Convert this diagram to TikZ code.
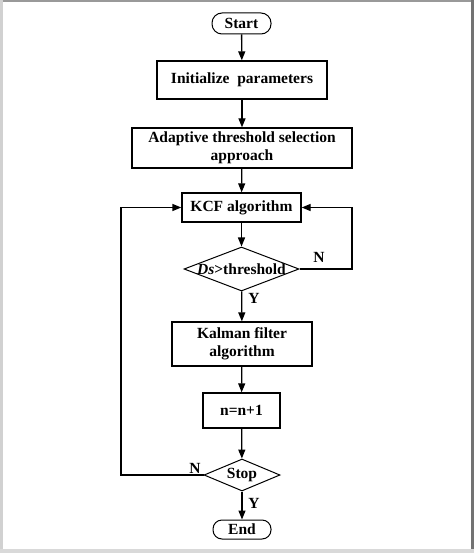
\documentclass[tikz,border=0pt]{standalone}
\usepackage{fontspec}
\setmainfont{Liberation Serif}
\usetikzlibrary{shapes.geometric,arrows.meta}
\begin{document}
\begin{tikzpicture}[x=1pt,y=-1pt,
  every node/.style={font=\bfseries\fontsize{15.5}{18}\selectfont, inner sep=0pt},
  box/.style={draw, line width=1.3pt, rectangle, align=center},
  term/.style={draw, line width=1pt, rounded corners=10pt},
  dec/.style={draw, line width=1pt, diamond, aspect=2.6},
  arr/.style={line width=1.3pt, -{Triangle[length=9pt,width=7pt]}},
  lbl/.style={font=\bfseries\fontsize{15.5}{18}\selectfont}]
\useasboundingbox (0,0) rectangle (474,553);
\fill[white] (0,0) rectangle (474,553);
% frame
\fill[black!40] (0,0) rectangle (474,2.5);
\fill[black!18] (0,0) rectangle (2.5,553);
\fill[black!55] (471,0) rectangle (474,553);
\fill[black!15] (0,549) rectangle (474,553);

\node[term, minimum width=59pt, minimum height=21pt] (start) at (241.5,23.5) {Start};
\node[box, minimum width=170pt, minimum height=38pt] (init) at (242,80) {Initialize\ \ parameters};
\node[box, minimum width=220pt, minimum height=40pt] (adapt) at (242,148) {Adaptive threshold selection\\approach};
\node[box, minimum width=119pt, minimum height=29pt] (kcf) at (241.5,207.5) {KCF algorithm};
\node[dec, minimum width=115pt, minimum height=44pt] (ds) at (241.5,269) {};
\node at (241.5,269) (dstext) {\textit{Ds}>threshold};
\node[box, minimum width=140pt, minimum height=44pt] (kal) at (242,344) {Kalman filter\\algorithm};
\node[box, minimum width=77pt, minimum height=35pt] (inc) at (241.5,410.5) {n=n+1};
\node[dec, minimum width=76pt, minimum height=32pt] (stop) at (242,475) {};
\node at (242,475) (stoptext) {Stop};
\node[term, minimum width=58pt, minimum height=19pt, rounded corners=9pt] (end) at (242,529.5) {End};

\coordinate (rr) at (352,269);
\coordinate (rt) at (352,207.5);
\coordinate (ll) at (121,475);
\coordinate (lt) at (121,207.5);

\draw[arr] (start) -- (init);
\draw[arr] (init) -- (adapt);
\draw[arr] (adapt) -- (kcf);
\draw[arr] (kcf) -- (ds);
\draw[arr] (ds) -- (kal);
\draw[arr] (kal) -- (inc);
\draw[arr] (inc) -- (stop);
\draw[arr] (stop) -- (end);
\draw[arr] (ds.east) -- (rr) -- (rt) -- (kcf.east);
\draw[arr] (stop.west) -- (ll) -- (lt) -- (kcf.west);

\node[lbl] (n1) at (319,257) {N};
\node[lbl] (y1) at (254,298) {Y};
\node[lbl] (n2) at (195,468) {N};
\node[lbl] (y2) at (254,503) {Y};
\end{tikzpicture}
\end{document}
